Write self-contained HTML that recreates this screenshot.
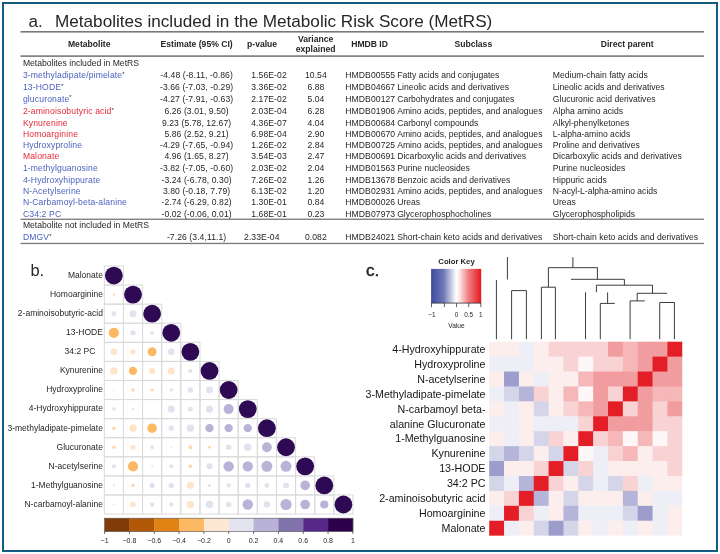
<!DOCTYPE html>
<html><head><meta charset="utf-8"><title>MetRS figure</title>
<style>
html,body{margin:0;padding:0;background:#fff;}
body{width:720px;height:554px;position:relative;overflow:hidden;font-family:"Liberation Sans", sans-serif;}
.frame{position:absolute;left:2px;top:2px;width:716px;height:549.5px;box-sizing:border-box;border:2px solid #145d82;}
svg{position:absolute;left:0;top:0;will-change:transform;}
svg text{font-family:"Liberation Sans", sans-serif;}
</style></head>
<body>
<svg width="720" height="554" viewBox="0 0 720 554">
<text x="28.50" y="26.80" font-size="17.1" text-anchor="start" font-weight="normal" fill="#262626" >a.</text>
<text x="55.00" y="26.80" font-size="17.15" text-anchor="start" font-weight="normal" fill="#262626" >Metabolites included in the Metabolic Risk Score (MetRS)</text>
<rect x="20.50" y="31.00" width="683.50" height="1.60" fill="#787878" />
<rect x="20.50" y="55.30" width="683.50" height="1.60" fill="#787878" />
<rect x="20.50" y="218.60" width="683.50" height="1.30" fill="#787878" />
<rect x="20.50" y="242.80" width="683.50" height="1.30" fill="#787878" />
<text x="89.20" y="47.30" font-size="8.6" text-anchor="middle" font-weight="bold" fill="#262626" >Metabolite</text>
<text x="196.60" y="47.30" font-size="8.6" text-anchor="middle" font-weight="bold" fill="#262626" >Estimate (95% CI)</text>
<text x="262.10" y="47.30" font-size="8.6" text-anchor="middle" font-weight="bold" fill="#262626" >p-value</text>
<text x="315.60" y="41.70" font-size="8.6" text-anchor="middle" font-weight="bold" fill="#262626" >Variance</text>
<text x="315.60" y="52.30" font-size="8.6" text-anchor="middle" font-weight="bold" fill="#262626" >explained</text>
<text x="369.60" y="47.30" font-size="8.6" text-anchor="middle" font-weight="bold" fill="#262626" >HMDB ID</text>
<text x="473.30" y="47.30" font-size="8.6" text-anchor="middle" font-weight="bold" fill="#262626" >Subclass</text>
<text x="627.20" y="47.30" font-size="8.6" text-anchor="middle" font-weight="bold" fill="#262626" >Direct parent</text>
<text x="22.90" y="65.50" font-size="8.6" text-anchor="start" font-weight="normal" fill="#262626" >Metabolites included in MetRS</text>
<text x="22.9" y="77.70" font-size="8.6" fill="#4d63be" letter-spacing="0.14">3-methyladipate/pimelate<tspan fill="#262626" font-size="6" dy="-2.2">*</tspan></text>
<text x="196.60" y="77.70" font-size="8.6" text-anchor="middle" font-weight="normal" fill="#262626" letter-spacing="0.08">-4.48 (-8.11, -0.86)</text>
<text x="269.00" y="77.70" font-size="8.6" text-anchor="middle" font-weight="normal" fill="#262626" letter-spacing="0.08">1.56E-02</text>
<text x="315.90" y="77.70" font-size="8.6" text-anchor="middle" font-weight="normal" fill="#262626" letter-spacing="0.08">10.54</text>
<text x="345.30" y="77.70" font-size="8.6" text-anchor="start" font-weight="normal" fill="#262626" letter-spacing="0.08">HMDB00555</text>
<text x="397.20" y="77.70" font-size="8.6" text-anchor="start" font-weight="normal" fill="#262626" >Fatty acids and conjugates</text>
<text x="552.80" y="77.70" font-size="8.6" text-anchor="start" font-weight="normal" fill="#262626" >Medium-chain fatty acids</text>
<text x="22.9" y="89.70" font-size="8.6" fill="#4d63be" letter-spacing="0.14">13-HODE<tspan fill="#262626" font-size="6" dy="-2.2">*</tspan></text>
<text x="196.60" y="89.70" font-size="8.6" text-anchor="middle" font-weight="normal" fill="#262626" letter-spacing="0.08">-3.66 (-7.03, -0.29)</text>
<text x="269.00" y="89.70" font-size="8.6" text-anchor="middle" font-weight="normal" fill="#262626" letter-spacing="0.08">3.36E-02</text>
<text x="315.90" y="89.70" font-size="8.6" text-anchor="middle" font-weight="normal" fill="#262626" letter-spacing="0.08">6.88</text>
<text x="345.30" y="89.70" font-size="8.6" text-anchor="start" font-weight="normal" fill="#262626" letter-spacing="0.08">HMDB04667</text>
<text x="397.20" y="89.70" font-size="8.6" text-anchor="start" font-weight="normal" fill="#262626" >Lineolic acids and derivatives</text>
<text x="552.80" y="89.70" font-size="8.6" text-anchor="start" font-weight="normal" fill="#262626" >Lineolic acids and derivatives</text>
<text x="22.9" y="101.50" font-size="8.6" fill="#4d63be" letter-spacing="0.14">glucuronate<tspan fill="#262626" font-size="6" dy="-2.2">*</tspan></text>
<text x="196.60" y="101.50" font-size="8.6" text-anchor="middle" font-weight="normal" fill="#262626" letter-spacing="0.08">-4.27 (-7.91, -0.63)</text>
<text x="269.00" y="101.50" font-size="8.6" text-anchor="middle" font-weight="normal" fill="#262626" letter-spacing="0.08">2.17E-02</text>
<text x="315.90" y="101.50" font-size="8.6" text-anchor="middle" font-weight="normal" fill="#262626" letter-spacing="0.08">5.04</text>
<text x="345.30" y="101.50" font-size="8.6" text-anchor="start" font-weight="normal" fill="#262626" letter-spacing="0.08">HMDB00127</text>
<text x="397.20" y="101.50" font-size="8.6" text-anchor="start" font-weight="normal" fill="#262626" >Carbohydrates and conjugates</text>
<text x="552.80" y="101.50" font-size="8.6" text-anchor="start" font-weight="normal" fill="#262626" >Glucuronic acid derivatives</text>
<text x="22.9" y="113.90" font-size="8.6" fill="#e42a38" letter-spacing="0.14">2-aminoisobutyric acid<tspan fill="#262626" font-size="6" dy="-2.2">*</tspan></text>
<text x="196.60" y="113.90" font-size="8.6" text-anchor="middle" font-weight="normal" fill="#262626" letter-spacing="0.08">6.26 (3.01, 9.50)</text>
<text x="269.00" y="113.90" font-size="8.6" text-anchor="middle" font-weight="normal" fill="#262626" letter-spacing="0.08">2.03E-04</text>
<text x="315.90" y="113.90" font-size="8.6" text-anchor="middle" font-weight="normal" fill="#262626" letter-spacing="0.08">6.28</text>
<text x="345.30" y="113.90" font-size="8.6" text-anchor="start" font-weight="normal" fill="#262626" letter-spacing="0.08">HMDB01906</text>
<text x="397.20" y="113.90" font-size="8.6" text-anchor="start" font-weight="normal" fill="#262626" >Amino acids, peptides, and analogues</text>
<text x="552.80" y="113.90" font-size="8.6" text-anchor="start" font-weight="normal" fill="#262626" >Alpha amino acids</text>
<text x="22.9" y="125.60" font-size="8.6" fill="#e42a38" letter-spacing="0.14">Kynurenine</text>
<text x="196.60" y="125.60" font-size="8.6" text-anchor="middle" font-weight="normal" fill="#262626" letter-spacing="0.08">9.23 (5.78, 12.67)</text>
<text x="269.00" y="125.60" font-size="8.6" text-anchor="middle" font-weight="normal" fill="#262626" letter-spacing="0.08">4.36E-07</text>
<text x="315.90" y="125.60" font-size="8.6" text-anchor="middle" font-weight="normal" fill="#262626" letter-spacing="0.08">4.04</text>
<text x="345.30" y="125.60" font-size="8.6" text-anchor="start" font-weight="normal" fill="#262626" letter-spacing="0.08">HMDB00684</text>
<text x="397.20" y="125.60" font-size="8.6" text-anchor="start" font-weight="normal" fill="#262626" >Carbonyl compounds</text>
<text x="552.80" y="125.60" font-size="8.6" text-anchor="start" font-weight="normal" fill="#262626" >Alkyl-phenylketones</text>
<text x="22.9" y="136.80" font-size="8.6" fill="#e42a38" letter-spacing="0.14">Homoarginine</text>
<text x="196.60" y="136.80" font-size="8.6" text-anchor="middle" font-weight="normal" fill="#262626" letter-spacing="0.08">5.86 (2.52, 9.21)</text>
<text x="269.00" y="136.80" font-size="8.6" text-anchor="middle" font-weight="normal" fill="#262626" letter-spacing="0.08">6.98E-04</text>
<text x="315.90" y="136.80" font-size="8.6" text-anchor="middle" font-weight="normal" fill="#262626" letter-spacing="0.08">2.90</text>
<text x="345.30" y="136.80" font-size="8.6" text-anchor="start" font-weight="normal" fill="#262626" letter-spacing="0.08">HMDB00670</text>
<text x="397.20" y="136.80" font-size="8.6" text-anchor="start" font-weight="normal" fill="#262626" >Amino acids, peptides, and analogues</text>
<text x="552.80" y="136.80" font-size="8.6" text-anchor="start" font-weight="normal" fill="#262626" >L-alpha-amino acids</text>
<text x="22.9" y="148.20" font-size="8.6" fill="#4d63be" letter-spacing="0.14">Hydroxyproline</text>
<text x="196.60" y="148.20" font-size="8.6" text-anchor="middle" font-weight="normal" fill="#262626" letter-spacing="0.08">-4.29 (-7.65, -0.94)</text>
<text x="269.00" y="148.20" font-size="8.6" text-anchor="middle" font-weight="normal" fill="#262626" letter-spacing="0.08">1.26E-02</text>
<text x="315.90" y="148.20" font-size="8.6" text-anchor="middle" font-weight="normal" fill="#262626" letter-spacing="0.08">2.84</text>
<text x="345.30" y="148.20" font-size="8.6" text-anchor="start" font-weight="normal" fill="#262626" letter-spacing="0.08">HMDB00725</text>
<text x="397.20" y="148.20" font-size="8.6" text-anchor="start" font-weight="normal" fill="#262626" >Amino acids, peptides, and analogues</text>
<text x="552.80" y="148.20" font-size="8.6" text-anchor="start" font-weight="normal" fill="#262626" >Proline and derivatives</text>
<text x="22.9" y="159.40" font-size="8.6" fill="#e42a38" letter-spacing="0.14">Malonate</text>
<text x="196.60" y="159.40" font-size="8.6" text-anchor="middle" font-weight="normal" fill="#262626" letter-spacing="0.08">4.96 (1.65, 8.27)</text>
<text x="269.00" y="159.40" font-size="8.6" text-anchor="middle" font-weight="normal" fill="#262626" letter-spacing="0.08">3.54E-03</text>
<text x="315.90" y="159.40" font-size="8.6" text-anchor="middle" font-weight="normal" fill="#262626" letter-spacing="0.08">2.47</text>
<text x="345.30" y="159.40" font-size="8.6" text-anchor="start" font-weight="normal" fill="#262626" letter-spacing="0.08">HMDB00691</text>
<text x="397.20" y="159.40" font-size="8.6" text-anchor="start" font-weight="normal" fill="#262626" >Dicarboxylic acids and derivatives</text>
<text x="552.80" y="159.40" font-size="8.6" text-anchor="start" font-weight="normal" fill="#262626" >Dicarboxylic acids and derivatives</text>
<text x="22.9" y="171.30" font-size="8.6" fill="#4d63be" letter-spacing="0.14">1-methylguanosine</text>
<text x="196.60" y="171.30" font-size="8.6" text-anchor="middle" font-weight="normal" fill="#262626" letter-spacing="0.08">-3.82 (-7.05, -0.60)</text>
<text x="269.00" y="171.30" font-size="8.6" text-anchor="middle" font-weight="normal" fill="#262626" letter-spacing="0.08">2.03E-02</text>
<text x="315.90" y="171.30" font-size="8.6" text-anchor="middle" font-weight="normal" fill="#262626" letter-spacing="0.08">2.04</text>
<text x="345.30" y="171.30" font-size="8.6" text-anchor="start" font-weight="normal" fill="#262626" letter-spacing="0.08">HMDB01563</text>
<text x="397.20" y="171.30" font-size="8.6" text-anchor="start" font-weight="normal" fill="#262626" >Purine nucleosides</text>
<text x="552.80" y="171.30" font-size="8.6" text-anchor="start" font-weight="normal" fill="#262626" >Purine nucleosides</text>
<text x="22.9" y="182.80" font-size="8.6" fill="#4d63be" letter-spacing="0.14">4-Hydroxyhippurate</text>
<text x="196.60" y="182.80" font-size="8.6" text-anchor="middle" font-weight="normal" fill="#262626" letter-spacing="0.08">-3.24 (-6.78, 0.30)</text>
<text x="269.00" y="182.80" font-size="8.6" text-anchor="middle" font-weight="normal" fill="#262626" letter-spacing="0.08">7.26E-02</text>
<text x="315.90" y="182.80" font-size="8.6" text-anchor="middle" font-weight="normal" fill="#262626" letter-spacing="0.08">1.26</text>
<text x="345.30" y="182.80" font-size="8.6" text-anchor="start" font-weight="normal" fill="#262626" letter-spacing="0.08">HMDB13678</text>
<text x="397.20" y="182.80" font-size="8.6" text-anchor="start" font-weight="normal" fill="#262626" >Benzoic acids and derivatives</text>
<text x="552.80" y="182.80" font-size="8.6" text-anchor="start" font-weight="normal" fill="#262626" >Hippuric acids</text>
<text x="22.9" y="194.00" font-size="8.6" fill="#4d63be" letter-spacing="0.14">N-Acetylserine</text>
<text x="196.60" y="194.00" font-size="8.6" text-anchor="middle" font-weight="normal" fill="#262626" letter-spacing="0.08">3.80 (-0.18, 7.79)</text>
<text x="269.00" y="194.00" font-size="8.6" text-anchor="middle" font-weight="normal" fill="#262626" letter-spacing="0.08">6.13E-02</text>
<text x="315.90" y="194.00" font-size="8.6" text-anchor="middle" font-weight="normal" fill="#262626" letter-spacing="0.08">1.20</text>
<text x="345.30" y="194.00" font-size="8.6" text-anchor="start" font-weight="normal" fill="#262626" letter-spacing="0.08">HMDB02931</text>
<text x="397.20" y="194.00" font-size="8.6" text-anchor="start" font-weight="normal" fill="#262626" >Amino acids, peptides, and analogues</text>
<text x="552.80" y="194.00" font-size="8.6" text-anchor="start" font-weight="normal" fill="#262626" >N-acyl-L-alpha-amino acids</text>
<text x="22.9" y="205.20" font-size="8.6" fill="#4d63be" letter-spacing="0.14">N-Carbamoyl-beta-alanine</text>
<text x="196.60" y="205.20" font-size="8.6" text-anchor="middle" font-weight="normal" fill="#262626" letter-spacing="0.08">-2.74 (-6.29, 0.82)</text>
<text x="269.00" y="205.20" font-size="8.6" text-anchor="middle" font-weight="normal" fill="#262626" letter-spacing="0.08">1.30E-01</text>
<text x="315.90" y="205.20" font-size="8.6" text-anchor="middle" font-weight="normal" fill="#262626" letter-spacing="0.08">0.84</text>
<text x="345.30" y="205.20" font-size="8.6" text-anchor="start" font-weight="normal" fill="#262626" letter-spacing="0.08">HMDB00026</text>
<text x="397.20" y="205.20" font-size="8.6" text-anchor="start" font-weight="normal" fill="#262626" >Ureas</text>
<text x="552.80" y="205.20" font-size="8.6" text-anchor="start" font-weight="normal" fill="#262626" >Ureas</text>
<text x="22.9" y="216.80" font-size="8.6" fill="#4d63be" letter-spacing="0.14">C34:2 PC</text>
<text x="196.60" y="216.80" font-size="8.6" text-anchor="middle" font-weight="normal" fill="#262626" letter-spacing="0.08">-0.02 (-0.06, 0.01)</text>
<text x="269.00" y="216.80" font-size="8.6" text-anchor="middle" font-weight="normal" fill="#262626" letter-spacing="0.08">1.68E-01</text>
<text x="315.90" y="216.80" font-size="8.6" text-anchor="middle" font-weight="normal" fill="#262626" letter-spacing="0.08">0.23</text>
<text x="345.30" y="216.80" font-size="8.6" text-anchor="start" font-weight="normal" fill="#262626" letter-spacing="0.08">HMDB07973</text>
<text x="397.20" y="216.80" font-size="8.6" text-anchor="start" font-weight="normal" fill="#262626" >Glycerophosphocholines</text>
<text x="552.80" y="216.80" font-size="8.6" text-anchor="start" font-weight="normal" fill="#262626" >Glycerophospholipids</text>
<text x="22.90" y="228.30" font-size="8.6" text-anchor="start" font-weight="normal" fill="#262626" >Metabolite not included in MetRS</text>
<text x="22.9" y="239.90" font-size="8.6" fill="#4d63be" letter-spacing="0.14">DMGV<tspan fill="#262626" font-size="6" dy="-2.2">*</tspan></text>
<text x="196.60" y="239.90" font-size="8.6" text-anchor="middle" font-weight="normal" fill="#262626" letter-spacing="0.08">-7.26 (3.4,11.1)</text>
<text x="261.80" y="239.90" font-size="8.6" text-anchor="middle" font-weight="normal" fill="#262626" letter-spacing="0.08">2.33E-04</text>
<text x="315.90" y="239.90" font-size="8.6" text-anchor="middle" font-weight="normal" fill="#262626" letter-spacing="0.08">0.082</text>
<text x="345.30" y="239.90" font-size="8.6" text-anchor="start" font-weight="normal" fill="#262626" letter-spacing="0.08">HMDB24021</text>
<text x="397.20" y="239.90" font-size="8.6" text-anchor="start" font-weight="normal" fill="#262626" >Short-chain keto acids and derivatives</text>
<text x="552.80" y="239.90" font-size="8.6" text-anchor="start" font-weight="normal" fill="#262626" >Short-chain keto acids and derivatives</text>
<text x="30.50" y="275.90" font-size="16.4" text-anchor="start" font-weight="normal" fill="#262626" >b.</text>
<text x="102.90" y="277.90" font-size="8.5" text-anchor="end" font-weight="normal" fill="#262626" >Malonate</text>
<text x="102.90" y="296.98" font-size="8.5" text-anchor="end" font-weight="normal" fill="#262626" >Homoarginine</text>
<text x="102.90" y="316.06" font-size="8.5" text-anchor="end" font-weight="normal" fill="#262626" >2-aminoisobutyric-acid</text>
<text x="102.90" y="335.14" font-size="8.5" text-anchor="end" font-weight="normal" fill="#262626" >13-HODE</text>
<text x="95.30" y="354.22" font-size="8.5" text-anchor="end" font-weight="normal" fill="#262626" >34:2 PC</text>
<text x="102.90" y="373.30" font-size="8.5" text-anchor="end" font-weight="normal" fill="#262626" >Kynurenine</text>
<text x="102.90" y="392.38" font-size="8.5" text-anchor="end" font-weight="normal" fill="#262626" >Hydroxyproline</text>
<text x="102.90" y="411.46" font-size="8.5" text-anchor="end" font-weight="normal" fill="#262626" >4-Hydroxyhippurate</text>
<text x="102.90" y="430.54" font-size="8.5" text-anchor="end" font-weight="normal" fill="#262626" >3-methyladipate-pimelate</text>
<text x="102.90" y="449.62" font-size="8.5" text-anchor="end" font-weight="normal" fill="#262626" >Glucuronate</text>
<text x="102.90" y="468.70" font-size="8.5" text-anchor="end" font-weight="normal" fill="#262626" >N-acetylserine</text>
<text x="102.90" y="487.78" font-size="8.5" text-anchor="end" font-weight="normal" fill="#262626" >1-Methylguanosine</text>
<text x="102.90" y="506.86" font-size="8.5" text-anchor="end" font-weight="normal" fill="#262626" >N-carbamoyl-alanine</text>
<rect x="104.30" y="266.00" width="19.13" height="19.08" fill="none" stroke="#dadada" stroke-width="1"/>
<rect x="104.30" y="285.08" width="19.13" height="19.08" fill="none" stroke="#dadada" stroke-width="1"/>
<rect x="123.43" y="285.08" width="19.13" height="19.08" fill="none" stroke="#dadada" stroke-width="1"/>
<rect x="104.30" y="304.16" width="19.13" height="19.08" fill="none" stroke="#dadada" stroke-width="1"/>
<rect x="123.43" y="304.16" width="19.13" height="19.08" fill="none" stroke="#dadada" stroke-width="1"/>
<rect x="142.56" y="304.16" width="19.13" height="19.08" fill="none" stroke="#dadada" stroke-width="1"/>
<rect x="104.30" y="323.24" width="19.13" height="19.08" fill="none" stroke="#dadada" stroke-width="1"/>
<rect x="123.43" y="323.24" width="19.13" height="19.08" fill="none" stroke="#dadada" stroke-width="1"/>
<rect x="142.56" y="323.24" width="19.13" height="19.08" fill="none" stroke="#dadada" stroke-width="1"/>
<rect x="161.69" y="323.24" width="19.13" height="19.08" fill="none" stroke="#dadada" stroke-width="1"/>
<rect x="104.30" y="342.32" width="19.13" height="19.08" fill="none" stroke="#dadada" stroke-width="1"/>
<rect x="123.43" y="342.32" width="19.13" height="19.08" fill="none" stroke="#dadada" stroke-width="1"/>
<rect x="142.56" y="342.32" width="19.13" height="19.08" fill="none" stroke="#dadada" stroke-width="1"/>
<rect x="161.69" y="342.32" width="19.13" height="19.08" fill="none" stroke="#dadada" stroke-width="1"/>
<rect x="180.82" y="342.32" width="19.13" height="19.08" fill="none" stroke="#dadada" stroke-width="1"/>
<rect x="104.30" y="361.40" width="19.13" height="19.08" fill="none" stroke="#dadada" stroke-width="1"/>
<rect x="123.43" y="361.40" width="19.13" height="19.08" fill="none" stroke="#dadada" stroke-width="1"/>
<rect x="142.56" y="361.40" width="19.13" height="19.08" fill="none" stroke="#dadada" stroke-width="1"/>
<rect x="161.69" y="361.40" width="19.13" height="19.08" fill="none" stroke="#dadada" stroke-width="1"/>
<rect x="180.82" y="361.40" width="19.13" height="19.08" fill="none" stroke="#dadada" stroke-width="1"/>
<rect x="199.95" y="361.40" width="19.13" height="19.08" fill="none" stroke="#dadada" stroke-width="1"/>
<rect x="104.30" y="380.48" width="19.13" height="19.08" fill="none" stroke="#dadada" stroke-width="1"/>
<rect x="123.43" y="380.48" width="19.13" height="19.08" fill="none" stroke="#dadada" stroke-width="1"/>
<rect x="142.56" y="380.48" width="19.13" height="19.08" fill="none" stroke="#dadada" stroke-width="1"/>
<rect x="161.69" y="380.48" width="19.13" height="19.08" fill="none" stroke="#dadada" stroke-width="1"/>
<rect x="180.82" y="380.48" width="19.13" height="19.08" fill="none" stroke="#dadada" stroke-width="1"/>
<rect x="199.95" y="380.48" width="19.13" height="19.08" fill="none" stroke="#dadada" stroke-width="1"/>
<rect x="219.08" y="380.48" width="19.13" height="19.08" fill="none" stroke="#dadada" stroke-width="1"/>
<rect x="104.30" y="399.56" width="19.13" height="19.08" fill="none" stroke="#dadada" stroke-width="1"/>
<rect x="123.43" y="399.56" width="19.13" height="19.08" fill="none" stroke="#dadada" stroke-width="1"/>
<rect x="142.56" y="399.56" width="19.13" height="19.08" fill="none" stroke="#dadada" stroke-width="1"/>
<rect x="161.69" y="399.56" width="19.13" height="19.08" fill="none" stroke="#dadada" stroke-width="1"/>
<rect x="180.82" y="399.56" width="19.13" height="19.08" fill="none" stroke="#dadada" stroke-width="1"/>
<rect x="199.95" y="399.56" width="19.13" height="19.08" fill="none" stroke="#dadada" stroke-width="1"/>
<rect x="219.08" y="399.56" width="19.13" height="19.08" fill="none" stroke="#dadada" stroke-width="1"/>
<rect x="238.21" y="399.56" width="19.13" height="19.08" fill="none" stroke="#dadada" stroke-width="1"/>
<rect x="104.30" y="418.64" width="19.13" height="19.08" fill="none" stroke="#dadada" stroke-width="1"/>
<rect x="123.43" y="418.64" width="19.13" height="19.08" fill="none" stroke="#dadada" stroke-width="1"/>
<rect x="142.56" y="418.64" width="19.13" height="19.08" fill="none" stroke="#dadada" stroke-width="1"/>
<rect x="161.69" y="418.64" width="19.13" height="19.08" fill="none" stroke="#dadada" stroke-width="1"/>
<rect x="180.82" y="418.64" width="19.13" height="19.08" fill="none" stroke="#dadada" stroke-width="1"/>
<rect x="199.95" y="418.64" width="19.13" height="19.08" fill="none" stroke="#dadada" stroke-width="1"/>
<rect x="219.08" y="418.64" width="19.13" height="19.08" fill="none" stroke="#dadada" stroke-width="1"/>
<rect x="238.21" y="418.64" width="19.13" height="19.08" fill="none" stroke="#dadada" stroke-width="1"/>
<rect x="257.34" y="418.64" width="19.13" height="19.08" fill="none" stroke="#dadada" stroke-width="1"/>
<rect x="104.30" y="437.72" width="19.13" height="19.08" fill="none" stroke="#dadada" stroke-width="1"/>
<rect x="123.43" y="437.72" width="19.13" height="19.08" fill="none" stroke="#dadada" stroke-width="1"/>
<rect x="142.56" y="437.72" width="19.13" height="19.08" fill="none" stroke="#dadada" stroke-width="1"/>
<rect x="161.69" y="437.72" width="19.13" height="19.08" fill="none" stroke="#dadada" stroke-width="1"/>
<rect x="180.82" y="437.72" width="19.13" height="19.08" fill="none" stroke="#dadada" stroke-width="1"/>
<rect x="199.95" y="437.72" width="19.13" height="19.08" fill="none" stroke="#dadada" stroke-width="1"/>
<rect x="219.08" y="437.72" width="19.13" height="19.08" fill="none" stroke="#dadada" stroke-width="1"/>
<rect x="238.21" y="437.72" width="19.13" height="19.08" fill="none" stroke="#dadada" stroke-width="1"/>
<rect x="257.34" y="437.72" width="19.13" height="19.08" fill="none" stroke="#dadada" stroke-width="1"/>
<rect x="276.47" y="437.72" width="19.13" height="19.08" fill="none" stroke="#dadada" stroke-width="1"/>
<rect x="104.30" y="456.80" width="19.13" height="19.08" fill="none" stroke="#dadada" stroke-width="1"/>
<rect x="123.43" y="456.80" width="19.13" height="19.08" fill="none" stroke="#dadada" stroke-width="1"/>
<rect x="142.56" y="456.80" width="19.13" height="19.08" fill="none" stroke="#dadada" stroke-width="1"/>
<rect x="161.69" y="456.80" width="19.13" height="19.08" fill="none" stroke="#dadada" stroke-width="1"/>
<rect x="180.82" y="456.80" width="19.13" height="19.08" fill="none" stroke="#dadada" stroke-width="1"/>
<rect x="199.95" y="456.80" width="19.13" height="19.08" fill="none" stroke="#dadada" stroke-width="1"/>
<rect x="219.08" y="456.80" width="19.13" height="19.08" fill="none" stroke="#dadada" stroke-width="1"/>
<rect x="238.21" y="456.80" width="19.13" height="19.08" fill="none" stroke="#dadada" stroke-width="1"/>
<rect x="257.34" y="456.80" width="19.13" height="19.08" fill="none" stroke="#dadada" stroke-width="1"/>
<rect x="276.47" y="456.80" width="19.13" height="19.08" fill="none" stroke="#dadada" stroke-width="1"/>
<rect x="295.60" y="456.80" width="19.13" height="19.08" fill="none" stroke="#dadada" stroke-width="1"/>
<rect x="104.30" y="475.88" width="19.13" height="19.08" fill="none" stroke="#dadada" stroke-width="1"/>
<rect x="123.43" y="475.88" width="19.13" height="19.08" fill="none" stroke="#dadada" stroke-width="1"/>
<rect x="142.56" y="475.88" width="19.13" height="19.08" fill="none" stroke="#dadada" stroke-width="1"/>
<rect x="161.69" y="475.88" width="19.13" height="19.08" fill="none" stroke="#dadada" stroke-width="1"/>
<rect x="180.82" y="475.88" width="19.13" height="19.08" fill="none" stroke="#dadada" stroke-width="1"/>
<rect x="199.95" y="475.88" width="19.13" height="19.08" fill="none" stroke="#dadada" stroke-width="1"/>
<rect x="219.08" y="475.88" width="19.13" height="19.08" fill="none" stroke="#dadada" stroke-width="1"/>
<rect x="238.21" y="475.88" width="19.13" height="19.08" fill="none" stroke="#dadada" stroke-width="1"/>
<rect x="257.34" y="475.88" width="19.13" height="19.08" fill="none" stroke="#dadada" stroke-width="1"/>
<rect x="276.47" y="475.88" width="19.13" height="19.08" fill="none" stroke="#dadada" stroke-width="1"/>
<rect x="295.60" y="475.88" width="19.13" height="19.08" fill="none" stroke="#dadada" stroke-width="1"/>
<rect x="314.73" y="475.88" width="19.13" height="19.08" fill="none" stroke="#dadada" stroke-width="1"/>
<rect x="104.30" y="494.96" width="19.13" height="19.08" fill="none" stroke="#dadada" stroke-width="1"/>
<rect x="123.43" y="494.96" width="19.13" height="19.08" fill="none" stroke="#dadada" stroke-width="1"/>
<rect x="142.56" y="494.96" width="19.13" height="19.08" fill="none" stroke="#dadada" stroke-width="1"/>
<rect x="161.69" y="494.96" width="19.13" height="19.08" fill="none" stroke="#dadada" stroke-width="1"/>
<rect x="180.82" y="494.96" width="19.13" height="19.08" fill="none" stroke="#dadada" stroke-width="1"/>
<rect x="199.95" y="494.96" width="19.13" height="19.08" fill="none" stroke="#dadada" stroke-width="1"/>
<rect x="219.08" y="494.96" width="19.13" height="19.08" fill="none" stroke="#dadada" stroke-width="1"/>
<rect x="238.21" y="494.96" width="19.13" height="19.08" fill="none" stroke="#dadada" stroke-width="1"/>
<rect x="257.34" y="494.96" width="19.13" height="19.08" fill="none" stroke="#dadada" stroke-width="1"/>
<rect x="276.47" y="494.96" width="19.13" height="19.08" fill="none" stroke="#dadada" stroke-width="1"/>
<rect x="295.60" y="494.96" width="19.13" height="19.08" fill="none" stroke="#dadada" stroke-width="1"/>
<rect x="314.73" y="494.96" width="19.13" height="19.08" fill="none" stroke="#dadada" stroke-width="1"/>
<rect x="333.86" y="494.96" width="19.13" height="19.08" fill="none" stroke="#dadada" stroke-width="1"/>
<circle cx="113.86" cy="294.62" r="1.20" fill="#fdd8ac"/>
<circle cx="113.86" cy="313.70" r="2.45" fill="#e2e2ef"/>
<circle cx="133.00" cy="313.70" r="3.50" fill="#e2e2ef"/>
<circle cx="113.86" cy="332.78" r="5.10" fill="#fdb863"/>
<circle cx="133.00" cy="332.78" r="2.60" fill="#e2e2ef"/>
<circle cx="152.12" cy="332.78" r="1.90" fill="#e2e2ef"/>
<circle cx="113.86" cy="351.86" r="3.30" fill="#fee5c9"/>
<circle cx="133.00" cy="351.86" r="2.60" fill="#fee5c9"/>
<circle cx="152.12" cy="351.86" r="4.50" fill="#fdb863"/>
<circle cx="171.25" cy="351.86" r="3.30" fill="#e2e2ef"/>
<circle cx="113.86" cy="370.94" r="3.65" fill="#fee5c9"/>
<circle cx="133.00" cy="370.94" r="4.15" fill="#fdb863"/>
<circle cx="152.12" cy="370.94" r="3.10" fill="#fee5c9"/>
<circle cx="171.25" cy="370.94" r="3.50" fill="#fee5c9"/>
<circle cx="190.38" cy="370.94" r="2.15" fill="#e2e2ef"/>
<circle cx="113.86" cy="390.02" r="0.70" fill="#fdd8ac"/>
<circle cx="133.00" cy="390.02" r="1.75" fill="#fdd8ac"/>
<circle cx="152.12" cy="390.02" r="1.55" fill="#fdd8ac"/>
<circle cx="171.25" cy="390.02" r="1.75" fill="#e2e2ef"/>
<circle cx="190.38" cy="390.02" r="2.75" fill="#e2e2ef"/>
<circle cx="209.51" cy="390.02" r="3.45" fill="#e2e2ef"/>
<circle cx="113.86" cy="409.10" r="1.75" fill="#e2e2ef"/>
<circle cx="133.00" cy="409.10" r="1.20" fill="#e2e2ef"/>
<circle cx="152.12" cy="409.10" r="0.50" fill="#e2e2ef"/>
<circle cx="171.25" cy="409.10" r="3.65" fill="#e2e2ef"/>
<circle cx="190.38" cy="409.10" r="2.45" fill="#e2e2ef"/>
<circle cx="209.51" cy="409.10" r="3.65" fill="#e2e2ef"/>
<circle cx="228.64" cy="409.10" r="5.00" fill="#b9b3d8"/>
<circle cx="113.86" cy="428.18" r="1.75" fill="#fdd8ac"/>
<circle cx="133.00" cy="428.18" r="3.65" fill="#fee5c9"/>
<circle cx="152.12" cy="428.18" r="4.75" fill="#fdb863"/>
<circle cx="171.25" cy="428.18" r="2.60" fill="#e2e2ef"/>
<circle cx="190.38" cy="428.18" r="3.65" fill="#e2e2ef"/>
<circle cx="209.51" cy="428.18" r="4.15" fill="#b9b3d8"/>
<circle cx="228.64" cy="428.18" r="4.15" fill="#b9b3d8"/>
<circle cx="247.77" cy="428.18" r="4.15" fill="#b9b3d8"/>
<circle cx="113.86" cy="447.26" r="1.80" fill="#fdd8ac"/>
<circle cx="133.00" cy="447.26" r="2.60" fill="#fee5c9"/>
<circle cx="152.12" cy="447.26" r="1.85" fill="#e2e2ef"/>
<circle cx="171.25" cy="447.26" r="0.70" fill="#fdd8ac"/>
<circle cx="190.38" cy="447.26" r="1.90" fill="#fdd8ac"/>
<circle cx="209.51" cy="447.26" r="1.40" fill="#fdd8ac"/>
<circle cx="228.64" cy="447.26" r="2.70" fill="#e2e2ef"/>
<circle cx="247.77" cy="447.26" r="3.75" fill="#e2e2ef"/>
<circle cx="266.90" cy="447.26" r="4.90" fill="#b9b3d8"/>
<circle cx="113.86" cy="466.34" r="2.10" fill="#e2e2ef"/>
<circle cx="133.00" cy="466.34" r="5.10" fill="#fdb863"/>
<circle cx="152.12" cy="466.34" r="1.00" fill="#e2e2ef"/>
<circle cx="171.25" cy="466.34" r="2.00" fill="#e2e2ef"/>
<circle cx="190.38" cy="466.34" r="1.90" fill="#fdd8ac"/>
<circle cx="209.51" cy="466.34" r="3.00" fill="#e2e2ef"/>
<circle cx="228.64" cy="466.34" r="5.20" fill="#b9b3d8"/>
<circle cx="247.77" cy="466.34" r="5.20" fill="#b9b3d8"/>
<circle cx="266.90" cy="466.34" r="5.50" fill="#b9b3d8"/>
<circle cx="286.03" cy="466.34" r="5.50" fill="#b9b3d8"/>
<circle cx="113.86" cy="485.42" r="1.10" fill="#e2e2ef"/>
<circle cx="133.00" cy="485.42" r="1.70" fill="#fdd8ac"/>
<circle cx="152.12" cy="485.42" r="2.60" fill="#e2e2ef"/>
<circle cx="171.25" cy="485.42" r="2.75" fill="#e2e2ef"/>
<circle cx="190.38" cy="485.42" r="3.45" fill="#fee5c9"/>
<circle cx="209.51" cy="485.42" r="1.60" fill="#e2e2ef"/>
<circle cx="228.64" cy="485.42" r="2.15" fill="#e2e2ef"/>
<circle cx="247.77" cy="485.42" r="2.70" fill="#e2e2ef"/>
<circle cx="266.90" cy="485.42" r="2.40" fill="#e2e2ef"/>
<circle cx="286.03" cy="485.42" r="3.00" fill="#e2e2ef"/>
<circle cx="305.16" cy="485.42" r="4.85" fill="#b9b3d8"/>
<circle cx="113.86" cy="504.50" r="0.80" fill="#e2e2ef"/>
<circle cx="133.00" cy="504.50" r="2.75" fill="#fee5c9"/>
<circle cx="152.12" cy="504.50" r="2.20" fill="#e2e2ef"/>
<circle cx="171.25" cy="504.50" r="2.05" fill="#e2e2ef"/>
<circle cx="190.38" cy="504.50" r="3.75" fill="#fee5c9"/>
<circle cx="209.51" cy="504.50" r="3.80" fill="#e2e2ef"/>
<circle cx="228.64" cy="504.50" r="2.70" fill="#e2e2ef"/>
<circle cx="247.77" cy="504.50" r="5.20" fill="#b9b3d8"/>
<circle cx="266.90" cy="504.50" r="3.25" fill="#e2e2ef"/>
<circle cx="286.03" cy="504.50" r="5.60" fill="#b9b3d8"/>
<circle cx="305.16" cy="504.50" r="4.85" fill="#b9b3d8"/>
<circle cx="324.29" cy="504.50" r="4.10" fill="#b9b3d8"/>
<circle cx="113.86" cy="275.54" r="8.90" fill="#2e0954"/>
<circle cx="133.00" cy="294.62" r="8.90" fill="#2e0954"/>
<circle cx="152.12" cy="313.70" r="8.90" fill="#2e0954"/>
<circle cx="171.25" cy="332.78" r="8.90" fill="#2e0954"/>
<circle cx="190.38" cy="351.86" r="8.90" fill="#2e0954"/>
<circle cx="209.51" cy="370.94" r="8.90" fill="#2e0954"/>
<circle cx="228.64" cy="390.02" r="8.90" fill="#2e0954"/>
<circle cx="247.77" cy="409.10" r="8.90" fill="#2e0954"/>
<circle cx="266.90" cy="428.18" r="8.90" fill="#2e0954"/>
<circle cx="286.03" cy="447.26" r="8.90" fill="#2e0954"/>
<circle cx="305.16" cy="466.34" r="8.90" fill="#2e0954"/>
<circle cx="324.29" cy="485.42" r="8.90" fill="#2e0954"/>
<circle cx="343.43" cy="504.50" r="8.90" fill="#2e0954"/>
<rect x="104.60" y="518.20" width="25.13" height="13.40" fill="#7f3b08" />
<rect x="129.43" y="518.20" width="25.13" height="13.40" fill="#b35806" />
<rect x="154.26" y="518.20" width="25.13" height="13.40" fill="#e08214" />
<rect x="179.09" y="518.20" width="25.13" height="13.40" fill="#fdb863" />
<rect x="203.92" y="518.20" width="25.13" height="13.40" fill="#fee8d3" />
<rect x="228.75" y="518.20" width="25.13" height="13.40" fill="#e4e4f0" />
<rect x="253.58" y="518.20" width="25.13" height="13.40" fill="#b8b2d6" />
<rect x="278.41" y="518.20" width="25.13" height="13.40" fill="#8073ac" />
<rect x="303.24" y="518.20" width="25.13" height="13.40" fill="#542788" />
<rect x="328.07" y="518.20" width="25.13" height="13.40" fill="#2d004b" />
<rect x="104.60" y="518.20" width="248.30" height="13.40" fill="none" stroke="#555" stroke-width="0.6"/>
<line x1="104.60" y1="531.60" x2="104.60" y2="533.80" stroke="#333" stroke-width="0.8"/>
<text x="104.60" y="542.70" font-size="7" text-anchor="middle" font-weight="normal" fill="#262626" >−1</text>
<line x1="129.43" y1="531.60" x2="129.43" y2="533.80" stroke="#333" stroke-width="0.8"/>
<text x="129.43" y="542.70" font-size="7" text-anchor="middle" font-weight="normal" fill="#262626" >−0.8</text>
<line x1="154.26" y1="531.60" x2="154.26" y2="533.80" stroke="#333" stroke-width="0.8"/>
<text x="154.26" y="542.70" font-size="7" text-anchor="middle" font-weight="normal" fill="#262626" >−0.6</text>
<line x1="179.09" y1="531.60" x2="179.09" y2="533.80" stroke="#333" stroke-width="0.8"/>
<text x="179.09" y="542.70" font-size="7" text-anchor="middle" font-weight="normal" fill="#262626" >−0.4</text>
<line x1="203.92" y1="531.60" x2="203.92" y2="533.80" stroke="#333" stroke-width="0.8"/>
<text x="203.92" y="542.70" font-size="7" text-anchor="middle" font-weight="normal" fill="#262626" >−0.2</text>
<line x1="228.75" y1="531.60" x2="228.75" y2="533.80" stroke="#333" stroke-width="0.8"/>
<text x="228.75" y="542.70" font-size="7" text-anchor="middle" font-weight="normal" fill="#262626" >0</text>
<line x1="253.58" y1="531.60" x2="253.58" y2="533.80" stroke="#333" stroke-width="0.8"/>
<text x="253.58" y="542.70" font-size="7" text-anchor="middle" font-weight="normal" fill="#262626" >0.2</text>
<line x1="278.41" y1="531.60" x2="278.41" y2="533.80" stroke="#333" stroke-width="0.8"/>
<text x="278.41" y="542.70" font-size="7" text-anchor="middle" font-weight="normal" fill="#262626" >0.4</text>
<line x1="303.24" y1="531.60" x2="303.24" y2="533.80" stroke="#333" stroke-width="0.8"/>
<text x="303.24" y="542.70" font-size="7" text-anchor="middle" font-weight="normal" fill="#262626" >0.6</text>
<line x1="328.07" y1="531.60" x2="328.07" y2="533.80" stroke="#333" stroke-width="0.8"/>
<text x="328.07" y="542.70" font-size="7" text-anchor="middle" font-weight="normal" fill="#262626" >0.8</text>
<line x1="352.90" y1="531.60" x2="352.90" y2="533.80" stroke="#333" stroke-width="0.8"/>
<text x="352.90" y="542.70" font-size="7" text-anchor="middle" font-weight="normal" fill="#262626" >1</text>
<text x="366" y="276" font-size="17" fill="#262626" stroke="#262626" stroke-width="0.45">c.</text>
<text x="456.50" y="264.00" font-size="7.7" text-anchor="middle" font-weight="bold" fill="#262626" >Color Key</text>
<defs><linearGradient id="ck" x1="0" x2="1" y1="0" y2="0"><stop offset="0" stop-color="#3b4b9e"/><stop offset="0.25" stop-color="#6f78b6"/><stop offset="0.5" stop-color="#ffffff"/><stop offset="0.56" stop-color="#fdeaea"/><stop offset="0.75" stop-color="#f07c7f"/><stop offset="1" stop-color="#e31a1c"/></linearGradient></defs>
<rect x="431.10" y="268.90" width="50.10" height="34.20" fill="url(#ck)" />
<line x1="431.10" y1="303.10" x2="481.20" y2="303.10" stroke="#333" stroke-width="0.8"/>
<line x1="431.50" y1="303.10" x2="431.50" y2="307.10" stroke="#333" stroke-width="0.8"/>
<line x1="444.40" y1="303.10" x2="444.40" y2="307.10" stroke="#333" stroke-width="0.8"/>
<line x1="456.60" y1="303.10" x2="456.60" y2="307.10" stroke="#333" stroke-width="0.8"/>
<line x1="468.70" y1="303.10" x2="468.70" y2="307.10" stroke="#333" stroke-width="0.8"/>
<line x1="480.90" y1="303.10" x2="480.90" y2="307.10" stroke="#333" stroke-width="0.8"/>
<text x="432.00" y="317.40" font-size="6.4" text-anchor="middle" font-weight="normal" fill="#262626" >−1</text>
<text x="456.60" y="317.40" font-size="6.4" text-anchor="middle" font-weight="normal" fill="#262626" >0</text>
<text x="468.60" y="317.40" font-size="6.4" text-anchor="middle" font-weight="normal" fill="#262626" >0.5</text>
<text x="480.90" y="317.40" font-size="6.4" text-anchor="middle" font-weight="normal" fill="#262626" >1</text>
<text x="456.50" y="327.60" font-size="6.6" text-anchor="middle" font-weight="normal" fill="#262626" >Value</text>
<rect x="489.20" y="341.70" width="15.45" height="15.52" fill="#fdeeee" />
<rect x="504.05" y="341.70" width="15.45" height="15.52" fill="#fdeeee" />
<rect x="518.90" y="341.70" width="15.45" height="15.52" fill="#eeeef6" />
<rect x="533.75" y="341.70" width="15.45" height="15.52" fill="#fdeeee" />
<rect x="548.60" y="341.70" width="15.45" height="15.52" fill="#f9d3d4" />
<rect x="563.45" y="341.70" width="15.45" height="15.52" fill="#f9d3d4" />
<rect x="578.30" y="341.70" width="15.45" height="15.52" fill="#f9d3d4" />
<rect x="593.15" y="341.70" width="15.45" height="15.52" fill="#f9d3d4" />
<rect x="608.00" y="341.70" width="15.45" height="15.52" fill="#f19c9e" />
<rect x="622.85" y="341.70" width="15.45" height="15.52" fill="#f5b7b8" />
<rect x="637.70" y="341.70" width="15.45" height="15.52" fill="#f19c9e" />
<rect x="652.55" y="341.70" width="15.45" height="15.52" fill="#f19c9e" />
<rect x="667.40" y="341.70" width="14.85" height="15.52" fill="#e31e26" />
<rect x="489.20" y="356.62" width="15.45" height="15.52" fill="#eeeef6" />
<rect x="504.05" y="356.62" width="15.45" height="15.52" fill="#eeeef6" />
<rect x="518.90" y="356.62" width="15.45" height="15.52" fill="#eeeef6" />
<rect x="533.75" y="356.62" width="15.45" height="15.52" fill="#fdeeee" />
<rect x="548.60" y="356.62" width="15.45" height="15.52" fill="#fdeeee" />
<rect x="563.45" y="356.62" width="15.45" height="15.52" fill="#f9d3d4" />
<rect x="578.30" y="356.62" width="15.45" height="15.52" fill="#fef7f7" />
<rect x="593.15" y="356.62" width="15.45" height="15.52" fill="#f9d3d4" />
<rect x="608.00" y="356.62" width="15.45" height="15.52" fill="#f9d3d4" />
<rect x="622.85" y="356.62" width="15.45" height="15.52" fill="#f5b7b8" />
<rect x="637.70" y="356.62" width="15.45" height="15.52" fill="#f19c9e" />
<rect x="652.55" y="356.62" width="15.45" height="15.52" fill="#e31e26" />
<rect x="667.40" y="356.62" width="14.85" height="15.52" fill="#f19c9e" />
<rect x="489.20" y="371.54" width="15.45" height="15.52" fill="#fdeeee" />
<rect x="504.05" y="371.54" width="15.45" height="15.52" fill="#9c9ccd" />
<rect x="518.90" y="371.54" width="15.45" height="15.52" fill="#fdeeee" />
<rect x="533.75" y="371.54" width="15.45" height="15.52" fill="#eeeef6" />
<rect x="548.60" y="371.54" width="15.45" height="15.52" fill="#fdeeee" />
<rect x="563.45" y="371.54" width="15.45" height="15.52" fill="#fdeeee" />
<rect x="578.30" y="371.54" width="15.45" height="15.52" fill="#f5b7b8" />
<rect x="593.15" y="371.54" width="15.45" height="15.52" fill="#f19c9e" />
<rect x="608.00" y="371.54" width="15.45" height="15.52" fill="#f19c9e" />
<rect x="622.85" y="371.54" width="15.45" height="15.52" fill="#f19c9e" />
<rect x="637.70" y="371.54" width="15.45" height="15.52" fill="#e31e26" />
<rect x="652.55" y="371.54" width="15.45" height="15.52" fill="#f19c9e" />
<rect x="667.40" y="371.54" width="14.85" height="15.52" fill="#f19c9e" />
<rect x="489.20" y="386.46" width="15.45" height="15.52" fill="#eeeef6" />
<rect x="504.05" y="386.46" width="15.45" height="15.52" fill="#d5d5ea" />
<rect x="518.90" y="386.46" width="15.45" height="15.52" fill="#b5b5da" />
<rect x="533.75" y="386.46" width="15.45" height="15.52" fill="#f9d3d4" />
<rect x="548.60" y="386.46" width="15.45" height="15.52" fill="#fdeeee" />
<rect x="563.45" y="386.46" width="15.45" height="15.52" fill="#f5b7b8" />
<rect x="578.30" y="386.46" width="15.45" height="15.52" fill="#fef7f7" />
<rect x="593.15" y="386.46" width="15.45" height="15.52" fill="#f19c9e" />
<rect x="608.00" y="386.46" width="15.45" height="15.52" fill="#f9d3d4" />
<rect x="622.85" y="386.46" width="15.45" height="15.52" fill="#e31e26" />
<rect x="637.70" y="386.46" width="15.45" height="15.52" fill="#f19c9e" />
<rect x="652.55" y="386.46" width="15.45" height="15.52" fill="#f5b7b8" />
<rect x="667.40" y="386.46" width="14.85" height="15.52" fill="#f5b7b8" />
<rect x="489.20" y="401.38" width="15.45" height="15.52" fill="#fdeeee" />
<rect x="504.05" y="401.38" width="15.45" height="15.52" fill="#eeeef6" />
<rect x="518.90" y="401.38" width="15.45" height="15.52" fill="#fdeeee" />
<rect x="533.75" y="401.38" width="15.45" height="15.52" fill="#d5d5ea" />
<rect x="548.60" y="401.38" width="15.45" height="15.52" fill="#fdeeee" />
<rect x="563.45" y="401.38" width="15.45" height="15.52" fill="#f9d3d4" />
<rect x="578.30" y="401.38" width="15.45" height="15.52" fill="#f5b7b8" />
<rect x="593.15" y="401.38" width="15.45" height="15.52" fill="#f19c9e" />
<rect x="608.00" y="401.38" width="15.45" height="15.52" fill="#e31e26" />
<rect x="622.85" y="401.38" width="15.45" height="15.52" fill="#f9d3d4" />
<rect x="637.70" y="401.38" width="15.45" height="15.52" fill="#f19c9e" />
<rect x="652.55" y="401.38" width="15.45" height="15.52" fill="#f9d3d4" />
<rect x="667.40" y="401.38" width="14.85" height="15.52" fill="#f19c9e" />
<rect x="489.20" y="416.30" width="15.45" height="15.52" fill="#eeeef6" />
<rect x="504.05" y="416.30" width="15.45" height="15.52" fill="#eeeef6" />
<rect x="518.90" y="416.30" width="15.45" height="15.52" fill="#fdeeee" />
<rect x="533.75" y="416.30" width="15.45" height="15.52" fill="#eeeef6" />
<rect x="548.60" y="416.30" width="15.45" height="15.52" fill="#eeeef6" />
<rect x="563.45" y="416.30" width="15.45" height="15.52" fill="#eeeef6" />
<rect x="578.30" y="416.30" width="15.45" height="15.52" fill="#f9d3d4" />
<rect x="593.15" y="416.30" width="15.45" height="15.52" fill="#e31e26" />
<rect x="608.00" y="416.30" width="15.45" height="15.52" fill="#f19c9e" />
<rect x="622.85" y="416.30" width="15.45" height="15.52" fill="#f19c9e" />
<rect x="637.70" y="416.30" width="15.45" height="15.52" fill="#f19c9e" />
<rect x="652.55" y="416.30" width="15.45" height="15.52" fill="#f9d3d4" />
<rect x="667.40" y="416.30" width="14.85" height="15.52" fill="#f9d3d4" />
<rect x="489.20" y="431.22" width="15.45" height="15.52" fill="#fdeeee" />
<rect x="504.05" y="431.22" width="15.45" height="15.52" fill="#eeeef6" />
<rect x="518.90" y="431.22" width="15.45" height="15.52" fill="#fdeeee" />
<rect x="533.75" y="431.22" width="15.45" height="15.52" fill="#d5d5ea" />
<rect x="548.60" y="431.22" width="15.45" height="15.52" fill="#f9d3d4" />
<rect x="563.45" y="431.22" width="15.45" height="15.52" fill="#fdeeee" />
<rect x="578.30" y="431.22" width="15.45" height="15.52" fill="#e31e26" />
<rect x="593.15" y="431.22" width="15.45" height="15.52" fill="#f9d3d4" />
<rect x="608.00" y="431.22" width="15.45" height="15.52" fill="#f5b7b8" />
<rect x="622.85" y="431.22" width="15.45" height="15.52" fill="#fef7f7" />
<rect x="637.70" y="431.22" width="15.45" height="15.52" fill="#f5b7b8" />
<rect x="652.55" y="431.22" width="15.45" height="15.52" fill="#fef7f7" />
<rect x="667.40" y="431.22" width="14.85" height="15.52" fill="#f9d3d4" />
<rect x="489.20" y="446.14" width="15.45" height="15.52" fill="#d5d5ea" />
<rect x="504.05" y="446.14" width="15.45" height="15.52" fill="#b5b5da" />
<rect x="518.90" y="446.14" width="15.45" height="15.52" fill="#d5d5ea" />
<rect x="533.75" y="446.14" width="15.45" height="15.52" fill="#fdeeee" />
<rect x="548.60" y="446.14" width="15.45" height="15.52" fill="#d5d5ea" />
<rect x="563.45" y="446.14" width="15.45" height="15.52" fill="#e31e26" />
<rect x="578.30" y="446.14" width="15.45" height="15.52" fill="#fef7f7" />
<rect x="593.15" y="446.14" width="15.45" height="15.52" fill="#eeeef6" />
<rect x="608.00" y="446.14" width="15.45" height="15.52" fill="#f9d3d4" />
<rect x="622.85" y="446.14" width="15.45" height="15.52" fill="#f5b7b8" />
<rect x="637.70" y="446.14" width="15.45" height="15.52" fill="#fdeeee" />
<rect x="652.55" y="446.14" width="15.45" height="15.52" fill="#f9d3d4" />
<rect x="667.40" y="446.14" width="14.85" height="15.52" fill="#f9d3d4" />
<rect x="489.20" y="461.06" width="15.45" height="15.52" fill="#9c9ccd" />
<rect x="504.05" y="461.06" width="15.45" height="15.52" fill="#fdeeee" />
<rect x="518.90" y="461.06" width="15.45" height="15.52" fill="#fdeeee" />
<rect x="533.75" y="461.06" width="15.45" height="15.52" fill="#f9d3d4" />
<rect x="548.60" y="461.06" width="15.45" height="15.52" fill="#e31e26" />
<rect x="563.45" y="461.06" width="15.45" height="15.52" fill="#d5d5ea" />
<rect x="578.30" y="461.06" width="15.45" height="15.52" fill="#f9d3d4" />
<rect x="593.15" y="461.06" width="15.45" height="15.52" fill="#eeeef6" />
<rect x="608.00" y="461.06" width="15.45" height="15.52" fill="#fdeeee" />
<rect x="622.85" y="461.06" width="15.45" height="15.52" fill="#fdeeee" />
<rect x="637.70" y="461.06" width="15.45" height="15.52" fill="#fdeeee" />
<rect x="652.55" y="461.06" width="15.45" height="15.52" fill="#fdeeee" />
<rect x="667.40" y="461.06" width="14.85" height="15.52" fill="#f9d3d4" />
<rect x="489.20" y="475.98" width="15.45" height="15.52" fill="#d5d5ea" />
<rect x="504.05" y="475.98" width="15.45" height="15.52" fill="#eeeef6" />
<rect x="518.90" y="475.98" width="15.45" height="15.52" fill="#b5b5da" />
<rect x="533.75" y="475.98" width="15.45" height="15.52" fill="#e31e26" />
<rect x="548.60" y="475.98" width="15.45" height="15.52" fill="#f9d3d4" />
<rect x="563.45" y="475.98" width="15.45" height="15.52" fill="#fdeeee" />
<rect x="578.30" y="475.98" width="15.45" height="15.52" fill="#d5d5ea" />
<rect x="593.15" y="475.98" width="15.45" height="15.52" fill="#eeeef6" />
<rect x="608.00" y="475.98" width="15.45" height="15.52" fill="#d5d5ea" />
<rect x="622.85" y="475.98" width="15.45" height="15.52" fill="#f9d3d4" />
<rect x="637.70" y="475.98" width="15.45" height="15.52" fill="#eeeef6" />
<rect x="652.55" y="475.98" width="15.45" height="15.52" fill="#fdeeee" />
<rect x="667.40" y="475.98" width="14.85" height="15.52" fill="#fdeeee" />
<rect x="489.20" y="490.90" width="15.45" height="15.52" fill="#fdeeee" />
<rect x="504.05" y="490.90" width="15.45" height="15.52" fill="#f9d3d4" />
<rect x="518.90" y="490.90" width="15.45" height="15.52" fill="#e31e26" />
<rect x="533.75" y="490.90" width="15.45" height="15.52" fill="#b5b5da" />
<rect x="548.60" y="490.90" width="15.45" height="15.52" fill="#fdeeee" />
<rect x="563.45" y="490.90" width="15.45" height="15.52" fill="#d5d5ea" />
<rect x="578.30" y="490.90" width="15.45" height="15.52" fill="#fdeeee" />
<rect x="593.15" y="490.90" width="15.45" height="15.52" fill="#fdeeee" />
<rect x="608.00" y="490.90" width="15.45" height="15.52" fill="#fdeeee" />
<rect x="622.85" y="490.90" width="15.45" height="15.52" fill="#b5b5da" />
<rect x="637.70" y="490.90" width="15.45" height="15.52" fill="#fdeeee" />
<rect x="652.55" y="490.90" width="15.45" height="15.52" fill="#eeeef6" />
<rect x="667.40" y="490.90" width="14.85" height="15.52" fill="#eeeef6" />
<rect x="489.20" y="505.82" width="15.45" height="15.52" fill="#eeeef6" />
<rect x="504.05" y="505.82" width="15.45" height="15.52" fill="#e31e26" />
<rect x="518.90" y="505.82" width="15.45" height="15.52" fill="#f9d3d4" />
<rect x="533.75" y="505.82" width="15.45" height="15.52" fill="#eeeef6" />
<rect x="548.60" y="505.82" width="15.45" height="15.52" fill="#fdeeee" />
<rect x="563.45" y="505.82" width="15.45" height="15.52" fill="#b5b5da" />
<rect x="578.30" y="505.82" width="15.45" height="15.52" fill="#eeeef6" />
<rect x="593.15" y="505.82" width="15.45" height="15.52" fill="#eeeef6" />
<rect x="608.00" y="505.82" width="15.45" height="15.52" fill="#eeeef6" />
<rect x="622.85" y="505.82" width="15.45" height="15.52" fill="#d5d5ea" />
<rect x="637.70" y="505.82" width="15.45" height="15.52" fill="#9c9ccd" />
<rect x="652.55" y="505.82" width="15.45" height="15.52" fill="#eeeef6" />
<rect x="667.40" y="505.82" width="14.85" height="15.52" fill="#fdeeee" />
<rect x="489.20" y="520.74" width="15.45" height="14.92" fill="#e31e26" />
<rect x="504.05" y="520.74" width="15.45" height="14.92" fill="#eeeef6" />
<rect x="518.90" y="520.74" width="15.45" height="14.92" fill="#fdeeee" />
<rect x="533.75" y="520.74" width="15.45" height="14.92" fill="#d5d5ea" />
<rect x="548.60" y="520.74" width="15.45" height="14.92" fill="#9c9ccd" />
<rect x="563.45" y="520.74" width="15.45" height="14.92" fill="#d5d5ea" />
<rect x="578.30" y="520.74" width="15.45" height="14.92" fill="#fdeeee" />
<rect x="593.15" y="520.74" width="15.45" height="14.92" fill="#eeeef6" />
<rect x="608.00" y="520.74" width="15.45" height="14.92" fill="#fdeeee" />
<rect x="622.85" y="520.74" width="15.45" height="14.92" fill="#eeeef6" />
<rect x="637.70" y="520.74" width="15.45" height="14.92" fill="#fdeeee" />
<rect x="652.55" y="520.74" width="15.45" height="14.92" fill="#eeeef6" />
<rect x="667.40" y="520.74" width="14.85" height="14.92" fill="#fdeeee" />
<text x="485.50" y="352.96" font-size="10.7" text-anchor="end" font-weight="normal" fill="#161616" >4-Hydroxyhippurate</text>
<text x="485.50" y="367.88" font-size="10.7" text-anchor="end" font-weight="normal" fill="#161616" >Hydroxyproline</text>
<text x="485.50" y="382.80" font-size="10.7" text-anchor="end" font-weight="normal" fill="#161616" >N-acetylserine</text>
<text x="485.50" y="397.72" font-size="10.7" text-anchor="end" font-weight="normal" fill="#161616" >3-Methyladipate-pimelate</text>
<text x="485.50" y="412.64" font-size="10.7" text-anchor="end" font-weight="normal" fill="#161616" >N-carbamoyl beta-</text>
<text x="485.50" y="427.56" font-size="10.7" text-anchor="end" font-weight="normal" fill="#161616" >alanine Glucuronate</text>
<text x="485.50" y="442.48" font-size="10.7" text-anchor="end" font-weight="normal" fill="#161616" >1-Methylguanosine</text>
<text x="485.50" y="457.40" font-size="10.7" text-anchor="end" font-weight="normal" fill="#161616" >Kynurenine</text>
<text x="485.50" y="472.32" font-size="10.7" text-anchor="end" font-weight="normal" fill="#161616" >13-HODE</text>
<text x="485.50" y="487.24" font-size="10.7" text-anchor="end" font-weight="normal" fill="#161616" >34:2 PC</text>
<text x="485.50" y="502.16" font-size="10.7" text-anchor="end" font-weight="normal" fill="#161616" >2-aminoisobutyric acid</text>
<text x="485.50" y="517.08" font-size="10.7" text-anchor="end" font-weight="normal" fill="#161616" >Homoarginine</text>
<text x="485.50" y="532.00" font-size="10.7" text-anchor="end" font-weight="normal" fill="#161616" >Malonate</text>
<line x1="507.40" y1="257.00" x2="507.40" y2="279.50" stroke="#3c3c3c" stroke-width="1"/>
<line x1="496.40" y1="280.00" x2="496.40" y2="339.20" stroke="#3c3c3c" stroke-width="1"/>
<line x1="511.60" y1="290.60" x2="511.60" y2="339.20" stroke="#3c3c3c" stroke-width="1"/>
<line x1="526.40" y1="290.60" x2="526.40" y2="339.20" stroke="#3c3c3c" stroke-width="1"/>
<line x1="511.60" y1="290.60" x2="526.40" y2="290.60" stroke="#3c3c3c" stroke-width="1"/>
<line x1="541.40" y1="287.20" x2="541.40" y2="339.20" stroke="#3c3c3c" stroke-width="1"/>
<line x1="555.40" y1="287.20" x2="555.40" y2="339.20" stroke="#3c3c3c" stroke-width="1"/>
<line x1="541.40" y1="287.20" x2="555.40" y2="287.20" stroke="#3c3c3c" stroke-width="1"/>
<line x1="548.40" y1="267.70" x2="548.40" y2="287.20" stroke="#3c3c3c" stroke-width="1"/>
<line x1="548.40" y1="267.70" x2="597.50" y2="267.70" stroke="#3c3c3c" stroke-width="1"/>
<line x1="572.90" y1="257.20" x2="572.90" y2="267.70" stroke="#3c3c3c" stroke-width="1"/>
<line x1="597.40" y1="267.70" x2="597.40" y2="279.30" stroke="#3c3c3c" stroke-width="1"/>
<line x1="571.00" y1="279.30" x2="624.40" y2="279.30" stroke="#3c3c3c" stroke-width="1"/>
<line x1="624.40" y1="279.30" x2="624.40" y2="285.20" stroke="#3c3c3c" stroke-width="1"/>
<line x1="596.40" y1="285.20" x2="652.50" y2="285.20" stroke="#3c3c3c" stroke-width="1"/>
<line x1="596.40" y1="285.20" x2="596.40" y2="292.20" stroke="#3c3c3c" stroke-width="1"/>
<line x1="652.50" y1="285.20" x2="652.50" y2="293.30" stroke="#3c3c3c" stroke-width="1"/>
<line x1="637.20" y1="293.30" x2="667.10" y2="293.30" stroke="#3c3c3c" stroke-width="1"/>
<line x1="637.20" y1="293.30" x2="637.20" y2="300.90" stroke="#3c3c3c" stroke-width="1"/>
<line x1="630.10" y1="300.90" x2="644.80" y2="300.90" stroke="#3c3c3c" stroke-width="1"/>
<line x1="630.10" y1="300.90" x2="630.10" y2="339.20" stroke="#3c3c3c" stroke-width="1"/>
<line x1="585.50" y1="292.40" x2="585.50" y2="339.20" stroke="#3c3c3c" stroke-width="1"/>
<line x1="607.60" y1="292.40" x2="607.60" y2="303.40" stroke="#3c3c3c" stroke-width="1"/>
<line x1="600.30" y1="303.40" x2="614.80" y2="303.40" stroke="#3c3c3c" stroke-width="1"/>
<line x1="600.30" y1="303.40" x2="600.30" y2="339.20" stroke="#3c3c3c" stroke-width="1"/>
<line x1="659.70" y1="302.50" x2="674.40" y2="302.50" stroke="#3c3c3c" stroke-width="1"/>
<line x1="659.70" y1="302.50" x2="659.70" y2="339.20" stroke="#3c3c3c" stroke-width="1"/>
<line x1="674.40" y1="302.50" x2="674.40" y2="339.20" stroke="#3c3c3c" stroke-width="1"/>
</svg>
<div class="frame"></div>
</body></html>
